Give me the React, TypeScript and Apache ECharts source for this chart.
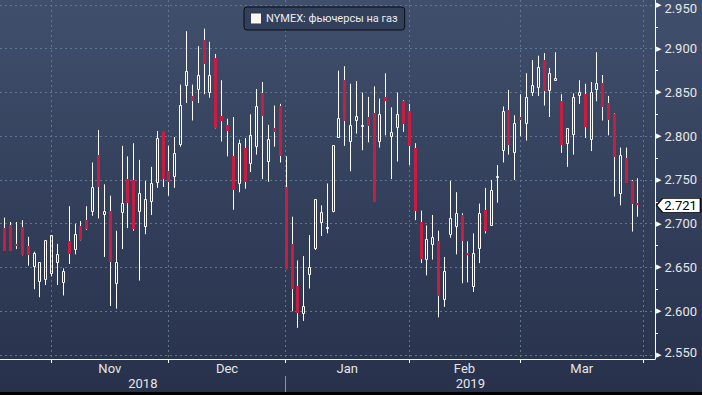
import React, { useEffect, useRef } from 'react';
import * as echarts from 'echarts';

const seriesName = 'NYMEX: фьючерсы на газ';

const dates = [
  '2018-10-22', '2018-10-23', '2018-10-24', '2018-10-25', '2018-10-26', '2018-10-29', '2018-10-30', '2018-10-31',
  '2018-11-01', '2018-11-02', '2018-11-05', '2018-11-06', '2018-11-07', '2018-11-08', '2018-11-09', '2018-11-12',
  '2018-11-13', '2018-11-14', '2018-11-15', '2018-11-16', '2018-11-19', '2018-11-20', '2018-11-21', '2018-11-26',
  '2018-11-27', '2018-11-28', '2018-11-29', '2018-11-30',
  '2018-12-03', '2018-12-04', '2018-12-05', '2018-12-06', '2018-12-07', '2018-12-10', '2018-12-11', '2018-12-12',
  '2018-12-13', '2018-12-14', '2018-12-17', '2018-12-18', '2018-12-19', '2018-12-20', '2018-12-21', '2018-12-24',
  '2018-12-26', '2018-12-27', '2018-12-28', '2018-12-31',
  '2019-01-02', '2019-01-03', '2019-01-04', '2019-01-07', '2019-01-08', '2019-01-09', '2019-01-10', '2019-01-11',
  '2019-01-14', '2019-01-15', '2019-01-16', '2019-01-17', '2019-01-18', '2019-01-22', '2019-01-23', '2019-01-24',
  '2019-01-25', '2019-01-28', '2019-01-29', '2019-01-30', '2019-01-31',
  '2019-02-01', '2019-02-04', '2019-02-05', '2019-02-06', '2019-02-07', '2019-02-08', '2019-02-11', '2019-02-12',
  '2019-02-13', '2019-02-14', '2019-02-15', '2019-02-19', '2019-02-20', '2019-02-21', '2019-02-22', '2019-02-25',
  '2019-02-26', '2019-02-27', '2019-02-28',
  '2019-03-01', '2019-03-04', '2019-03-05', '2019-03-06', '2019-03-07', '2019-03-08', '2019-03-11', '2019-03-12',
  '2019-03-13', '2019-03-14', '2019-03-15', '2019-03-18', '2019-03-19', '2019-03-20', '2019-03-21', '2019-03-22',
  '2019-03-25', '2019-03-26', '2019-03-27', '2019-03-28', '2019-03-29',
];
const extraAxisDates = ['2019-04-01', '2019-04-02'];

const opens = [
  2.695, 2.699, 2.677, 2.696, 2.675, 2.652, 2.634, 2.637, 2.644, 2.656, 2.633, 2.680, 2.671, 2.697, 2.704, 2.715,
  2.778, 2.711, 2.715, 2.632, 2.713, 2.751, 2.750, 2.714, 2.697, 2.726, 2.748, 2.805, 2.760, 2.755, 2.791, 2.859,
  2.846, 2.854, 2.910, 2.850, 2.889, 2.823, 2.813, 2.777, 2.746, 2.787, 2.769, 2.789, 2.849, 2.772, 2.809, 2.835,
  2.742, 2.677, 2.629, 2.598, 2.643, 2.672, 2.702, 2.695, 2.715, 2.799, 2.864, 2.794, 2.819, 2.812, 2.822, 2.827,
  2.795, 2.845, 2.800, 2.811, 2.840, 2.829, 2.787, 2.702, 2.660, 2.677, 2.680, 2.614, 2.688, 2.697, 2.710, 2.667,
  2.629, 2.672, 2.716, 2.699, 2.753, 2.784, 2.830, 2.782, 2.822, 2.815, 2.851, 2.856, 2.887, 2.853, 2.864, 2.840,
  2.792, 2.802, 2.847, 2.848, 2.797, 2.854, 2.861, 2.838, 2.825, 2.735, 2.775, 2.749, 2.724,
];
const highs = [
  2.707, 2.702, 2.702, 2.704, 2.685, 2.668, 2.656, 2.681, 2.687, 2.677, 2.649, 2.720, 2.700, 2.703, 2.720, 2.770,
  2.807, 2.745, 2.732, 2.692, 2.789, 2.777, 2.792, 2.773, 2.749, 2.765, 2.806, 2.805, 2.789, 2.799, 2.859, 2.920,
  2.859, 2.903, 2.923, 2.908, 2.894, 2.864, 2.820, 2.822, 2.796, 2.798, 2.825, 2.854, 2.862, 2.813, 2.835, 2.837,
  2.777, 2.708, 2.658, 2.663, 2.687, 2.728, 2.721, 2.746, 2.790, 2.875, 2.880, 2.860, 2.863, 2.850, 2.845, 2.857,
  2.843, 2.872, 2.833, 2.850, 2.841, 2.837, 2.792, 2.715, 2.698, 2.710, 2.692, 2.662, 2.749, 2.736, 2.712, 2.680,
  2.689, 2.723, 2.741, 2.750, 2.767, 2.834, 2.853, 2.824, 2.848, 2.872, 2.887, 2.892, 2.895, 2.878, 2.896, 2.848,
  2.809, 2.849, 2.864, 2.860, 2.862, 2.896, 2.870, 2.846, 2.826, 2.787, 2.787, 2.750, 2.752,
];
const lows = [
  2.669, 2.669, 2.671, 2.664, 2.652, 2.625, 2.616, 2.630, 2.640, 2.630, 2.618, 2.654, 2.665, 2.681, 2.693, 2.709,
  2.706, 2.662, 2.606, 2.603, 2.671, 2.695, 2.692, 2.635, 2.688, 2.710, 2.741, 2.742, 2.732, 2.741, 2.788, 2.838,
  2.818, 2.838, 2.848, 2.844, 2.809, 2.794, 2.777, 2.716, 2.736, 2.740, 2.759, 2.779, 2.751, 2.748, 2.788, 2.770,
  2.648, 2.600, 2.581, 2.589, 2.626, 2.670, 2.686, 2.689, 2.713, 2.799, 2.789, 2.760, 2.803, 2.784, 2.793, 2.725,
  2.787, 2.801, 2.751, 2.771, 2.805, 2.767, 2.704, 2.655, 2.641, 2.659, 2.593, 2.605, 2.684, 2.665, 2.632, 2.633,
  2.622, 2.655, 2.689, 2.699, 2.724, 2.770, 2.779, 2.750, 2.800, 2.795, 2.846, 2.846, 2.835, 2.822, 2.864, 2.781,
  2.765, 2.779, 2.837, 2.798, 2.783, 2.840, 2.818, 2.801, 2.731, 2.721, 2.747, 2.691, 2.708,
];
const closes = [
  2.669, 2.669, 2.675, 2.664, 2.664, 2.667, 2.656, 2.681, 2.687, 2.665, 2.646, 2.665, 2.688, 2.681, 2.694, 2.742,
  2.742, 2.715, 2.656, 2.656, 2.724, 2.724, 2.694, 2.735, 2.728, 2.746, 2.798, 2.751, 2.748, 2.781, 2.836, 2.875,
  2.840, 2.870, 2.882, 2.870, 2.809, 2.817, 2.806, 2.739, 2.792, 2.748, 2.801, 2.835, 2.823, 2.797, 2.805, 2.777,
  2.648, 2.625, 2.598, 2.606, 2.650, 2.728, 2.713, 2.696, 2.790, 2.821, 2.817, 2.813, 2.823, 2.813, 2.812, 2.725,
  2.825, 2.840, 2.805, 2.825, 2.814, 2.789, 2.714, 2.660, 2.682, 2.685, 2.617, 2.646, 2.707, 2.712, 2.680, 2.665,
  2.667, 2.712, 2.692, 2.739, 2.754, 2.829, 2.790, 2.815, 2.819, 2.845, 2.859, 2.879, 2.852, 2.872, 2.867, 2.790,
  2.809, 2.845, 2.851, 2.810, 2.851, 2.861, 2.833, 2.819, 2.776, 2.779, 2.747, 2.723, 2.721,
];

const yTickValues = [2.55, 2.6, 2.65, 2.7, 2.75, 2.8, 2.85, 2.9, 2.95];
const monthNames = ['Jan', 'Feb', 'Mar', 'Apr', 'May', 'Jun', 'Jul', 'Aug', 'Sep', 'Oct', 'Nov', 'Dec'];

const yMin = 2.5454;
const yMax = 2.9557;
const xMin = -0.73;
const xMax = 111;

const upColor = '#ffffff';
const downColor = '#c91c41';
const gridColor = '#607596';
const textColor = '#e6e6e6';

function buildOption() {
  const axisDates = dates.concat(extraAxisDates);
  const monthStarts: number[] = [];
  const yearStarts: number[] = [];
  for (let i = 1; i < axisDates.length; i++) {
    if (axisDates[i].slice(0, 7) !== axisDates[i - 1].slice(0, 7)) monthStarts.push(i);
    if (axisDates[i].slice(0, 4) !== axisDates[i - 1].slice(0, 4)) yearStarts.push(i);
  }
  const monthMids: number[] = [];
  const monthLabels: string[] = [];
  for (let k = 0; k < monthStarts.length - 1; k++) {
    monthMids.push((monthStarts[k] + monthStarts[k + 1]) / 2);
    monthLabels.push(monthNames[parseInt(axisDates[monthStarts[k]].slice(5, 7), 10) - 1]);
  }
  const yearBounds = [xMin, ...yearStarts, xMax];
  const yearMids: number[] = [];
  const yearLabels: string[] = [];
  for (let k = 0; k < yearBounds.length - 1; k++) {
    yearMids.push((yearBounds[k] + yearBounds[k + 1]) / 2);
    const idx = k === 0 ? 0 : yearStarts[k - 1];
    yearLabels.push(axisDates[idx].slice(0, 4));
  }
  const findLabel = (v: number, mids: number[], labels: string[]) => {
    for (let k = 0; k < mids.length; k++) if (Math.abs(mids[k] - v) < 1e-6) return labels[k];
    return '';
  };

  const data = dates.map((d, i) => [i, opens[i], closes[i], lows[i], highs[i]]);
  const last = closes.length - 1;

  const renderItem = (params: any, api: any) => {
    const i = api.value(0);
    const o = api.value(1);
    const c = api.value(2);
    const l = api.value(3);
    const h = api.value(4);
    const pO = api.coord([i, o]);
    const yC = api.coord([i, c])[1];
    const yL = api.coord([i, l])[1];
    const yH = api.coord([i, h])[1];
    const cx = Math.round(pO[0]) + 0.5;
    const top = Math.min(pO[1], yC);
    const bot = Math.max(pO[1], yC);
    const up = c >= o;
    const children: any[] = [];
    if (up) {
      const t = Math.round(top) + 0.5;
      const b = Math.round(bot) + 0.5;
      if (b - t < 1) {
        children.push({ type: 'line', shape: { x1: cx, y1: yH, x2: cx, y2: yL }, style: { stroke: upColor, lineWidth: 1 } });
        children.push({ type: 'line', shape: { x1: cx - 1.5, y1: t, x2: cx + 1.5, y2: t }, style: { stroke: upColor, lineWidth: 1 } });
      } else {
        if (yH < t) children.push({ type: 'line', shape: { x1: cx, y1: yH, x2: cx, y2: t }, style: { stroke: upColor, lineWidth: 1 } });
        if (yL > b) children.push({ type: 'line', shape: { x1: cx, y1: b, x2: cx, y2: yL }, style: { stroke: upColor, lineWidth: 1 } });
        children.push({ type: 'rect', shape: { x: cx - 1, y: t, width: 2, height: b - t }, style: { fill: 'none', stroke: upColor, lineWidth: 1 } });
      }
    } else {
      children.push({ type: 'line', shape: { x1: cx, y1: yH, x2: cx, y2: yL }, style: { stroke: upColor, lineWidth: 1 } });
      const t = Math.round(top);
      const b = Math.max(Math.round(bot), t + 2);
      children.push({ type: 'rect', shape: { x: cx - 1.5, y: t, width: 3, height: b - t }, style: { fill: downColor, stroke: 'none' } });
    }
    return { type: 'group', children };
  };

  return {
    animation: false,
    textStyle: { fontFamily: 'Roboto' },
    graphic: [
      {
        type: 'rect',
        z: -10,
        silent: true,
        shape: { x: 0, y: 0, width: 702, height: 395 },
        style: {
          fill: new echarts.graphic.LinearGradient(0, 0, 0, 1, [
            { offset: 0, color: '#404f6c' },
            { offset: 1, color: '#27314b' },
          ]),
        },
      },
      {
        type: 'rect',
        z: 50,
        silent: true,
        shape: { x: 0, y: 392, width: 702, height: 3 },
        style: { fill: '#000000' },
      },
    ],
    legend: {
      left: 244,
      top: 7,
      selectedMode: false,
      itemWidth: 10,
      itemHeight: 10,
      padding: [6, 7, 6, 7],
      backgroundColor: '#33405b',
      borderColor: '#0b0d12',
      borderWidth: 1,
      borderRadius: 3,
      textStyle: { color: '#ececec', fontSize: 11, fontFamily: 'Roboto' },
      data: [{ name: seriesName, icon: 'rect', itemStyle: { color: '#fff6f2', borderWidth: 0 } }],
    },
    grid: { left: 0, right: 47, top: 0, bottom: 36, containLabel: false, outerBoundsMode: 'none' },
    xAxis: [
      {
        type: 'value',
        position: 'bottom',
        min: xMin,
        max: xMax,
        axisLine: { show: true, onZero: false, lineStyle: { color: '#ffffff', width: 1 } },
        axisTick: { show: true, customValues: monthStarts, length: 4, lineStyle: { color: '#ffffff', width: 1 } },
        splitLine: { show: true, lineStyle: { color: gridColor, type: [2, 3], width: 1 } },
        axisLabel: {
          show: true,
          customValues: monthMids,
          formatter: (v: number) => findLabel(v, monthMids, monthLabels),
          color: textColor,
          fontSize: 13,
          margin: 3,
        },
      },
      {
        type: 'value',
        position: 'bottom',
        offset: 17,
        min: xMin,
        max: xMax,
        axisLine: { show: false, onZero: false },
        axisTick: { show: true, customValues: yearStarts, length: 19, lineStyle: { color: '#8a93a6', width: 1 } },
        splitLine: { show: false },
        axisLabel: {
          show: true,
          customValues: yearMids,
          formatter: (v: number) => findLabel(v, yearMids, yearLabels),
          color: textColor,
          fontSize: 13,
          margin: 1,
        },
      },
    ],
    yAxis: {
      type: 'value',
      position: 'right',
      min: yMin,
      max: yMax,
      splitNumber: 8,
      axisLine: { show: true, onZero: false, lineStyle: { color: '#ffffff', width: 1 } },
      axisTick: { show: false, customValues: yTickValues },
      minorTick: { show: true, splitNumber: 2, length: 3, lineStyle: { color: '#ffffff', width: 1 } },
      minorSplitLine: { show: false },
      splitLine: { show: true, lineStyle: { color: gridColor, type: [2, 3], width: 1 } },
      axisLabel: {
        show: true,
        customValues: yTickValues,
        margin: 1,
        formatter: (v: number) => {
          const key = v >= yTickValues[yTickValues.length - 1] - 1e-9 ? 'vt' : v <= yTickValues[0] + 1e-9 ? 'vb' : 'v';
          return `{t|▶}{${key}|${v.toFixed(3)}}`;
        },
        rich: {
          t: { fontSize: 7, color: '#ffffff', fontFamily: 'DejaVu Sans' },
          v: { fontSize: 13, color: textColor, padding: [0, 0, 0, 3], fontFamily: 'Roboto' },
          vt: { fontSize: 13, color: textColor, padding: [8, 0, 0, 3], fontFamily: 'Roboto' },
          vb: { fontSize: 13, color: textColor, padding: [0, 0, 5, 3], fontFamily: 'Roboto' },
        },
      },
    },
    series: [
      {
        type: 'custom',
        name: seriesName,
        renderItem,
        encode: { x: 0, y: [1, 2, 3, 4] },
        itemStyle: { color: '#fff6f2' },
        clip: false,
        data,
        markPoint: {
          silent: true,
          symbol: 'path://M0,7L6,0L44,0L44,14L6,14Z',
          symbolSize: [44, 14],
          symbolOffset: [23.5, 0],
          itemStyle: { color: '#ffffff', borderColor: '#111111', borderWidth: 1 },
          label: {
            show: true,
            position: 'inside',
            offset: [2, 0],
            color: '#000000',
            fontSize: 13,
            fontFamily: 'Roboto',
            formatter: (p: any) => Number(p.value).toFixed(3),
          },
          data: [{ coord: [xMax, closes[last]], value: closes[last] }],
        },
      },
    ],
  };
}

export default function App() {
  const ref = useRef<HTMLDivElement>(null);
  useEffect(() => {
    document.body.style.margin = '0';
    const chart = echarts.init(ref.current as HTMLDivElement, undefined, { renderer: 'svg' });
    chart.setOption(buildOption() as any);
    return () => chart.dispose();
  }, []);
  return <div ref={ref} style={{ width: 702, height: 395 }} />;
}
